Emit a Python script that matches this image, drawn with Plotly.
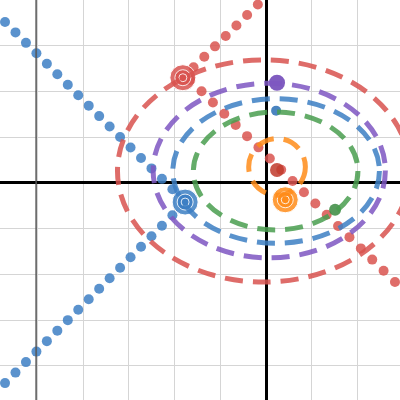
import numpy as np
import plotly.graph_objects as go

# ellipses: (cx, cy, a, b, color)
ellipses = [(-0.05, 0.26, 3.2, 2.43, "#d9534f"),
            (0.07, 0.27, 2.54, 1.91, "#7e57c2"),
            (0.22, 0.26, 2.26, 1.58, "#3d7fc4"),
            (0.21, 0.26, 1.80, 1.29, "#4a9e4f"),
            (0.24, 0.35, 0.62, 0.62, "#ff8c1a")]
# dotted segments: (x0,y0,x1,y1,n,color)
segments = [(-0.18, 3.9, -1.82, 2.3, 8, "#d9534f"),
            (-1.66, 2.25, 2.82, -2.17, 19, "#d9534f"),
            (-5.71, 3.52, -1.82, -0.37, 18, "#3d7fc4"),
            (-5.71, -4.38, -1.82, -0.48, 18, "#3d7fc4")]
# single points: (x,y,size,color)
points = [(0.24, 0.28, 14, "#c0392b"), (0.24, 2.19, 16, "#6a3fb5"),
          (0.22, 1.58, 10, "#2a6fb5"), (1.51, -0.59, 12, "#3a8a3f")]
clusters = [(0.42, -0.37, "#ff8c1a"), (-1.77, -0.42, "#3d7fc4"), (-1.82, 2.3, "#d9534f")]

fig = go.Figure()
for x0, y0, x1, y1, n, c in segments:
    fig.add_trace(go.Scatter(x=np.linspace(x0, x1, n), y=np.linspace(y0, y1, n), mode="markers",
                             marker=dict(size=10, color=c, opacity=0.85), hoverinfo="skip"))
for cx, cy, a, b, c in ellipses:
    fig.add_shape(type="circle", x0=cx - a, x1=cx + a, y0=cy - b, y1=cy + b,
                  line=dict(color=c, width=5, dash="18px,10px"), opacity=0.85)
for x, y, s, c in points:
    fig.add_trace(go.Scatter(x=[x], y=[y], mode="markers", marker=dict(size=s, color=c, opacity=0.85)))
for x, y, c in clusters:
    fig.add_trace(go.Scatter(x=[x, x, x], y=[y, y, y], mode="markers",
                             marker=dict(size=[26, 16, 8], color=c, opacity=0.85,
                                         line=dict(color="white", width=1))))
fig.add_shape(type="line", x0=-5.03, x1=-5.03, y0=-6, y1=6, line=dict(color="#555", width=1.5))
ax = dict(showgrid=True, gridcolor="#d5d5d5", gridwidth=1, dtick=1, zeroline=True,
          zerolinecolor="black", zerolinewidth=3, showticklabels=False, ticks="")
fig.update_layout(width=400, height=400, margin=dict(l=0, r=0, t=0, b=0), showlegend=False,
                  plot_bgcolor="white", paper_bgcolor="white",
                  xaxis=dict(range=[-5.82, 2.93], **ax),
                  yaxis=dict(range=[-4.75, 4.0], **ax))
fig.write_html("out.html", post_script="document.body.style.margin='0';",
               config={"displayModeBar": False})
